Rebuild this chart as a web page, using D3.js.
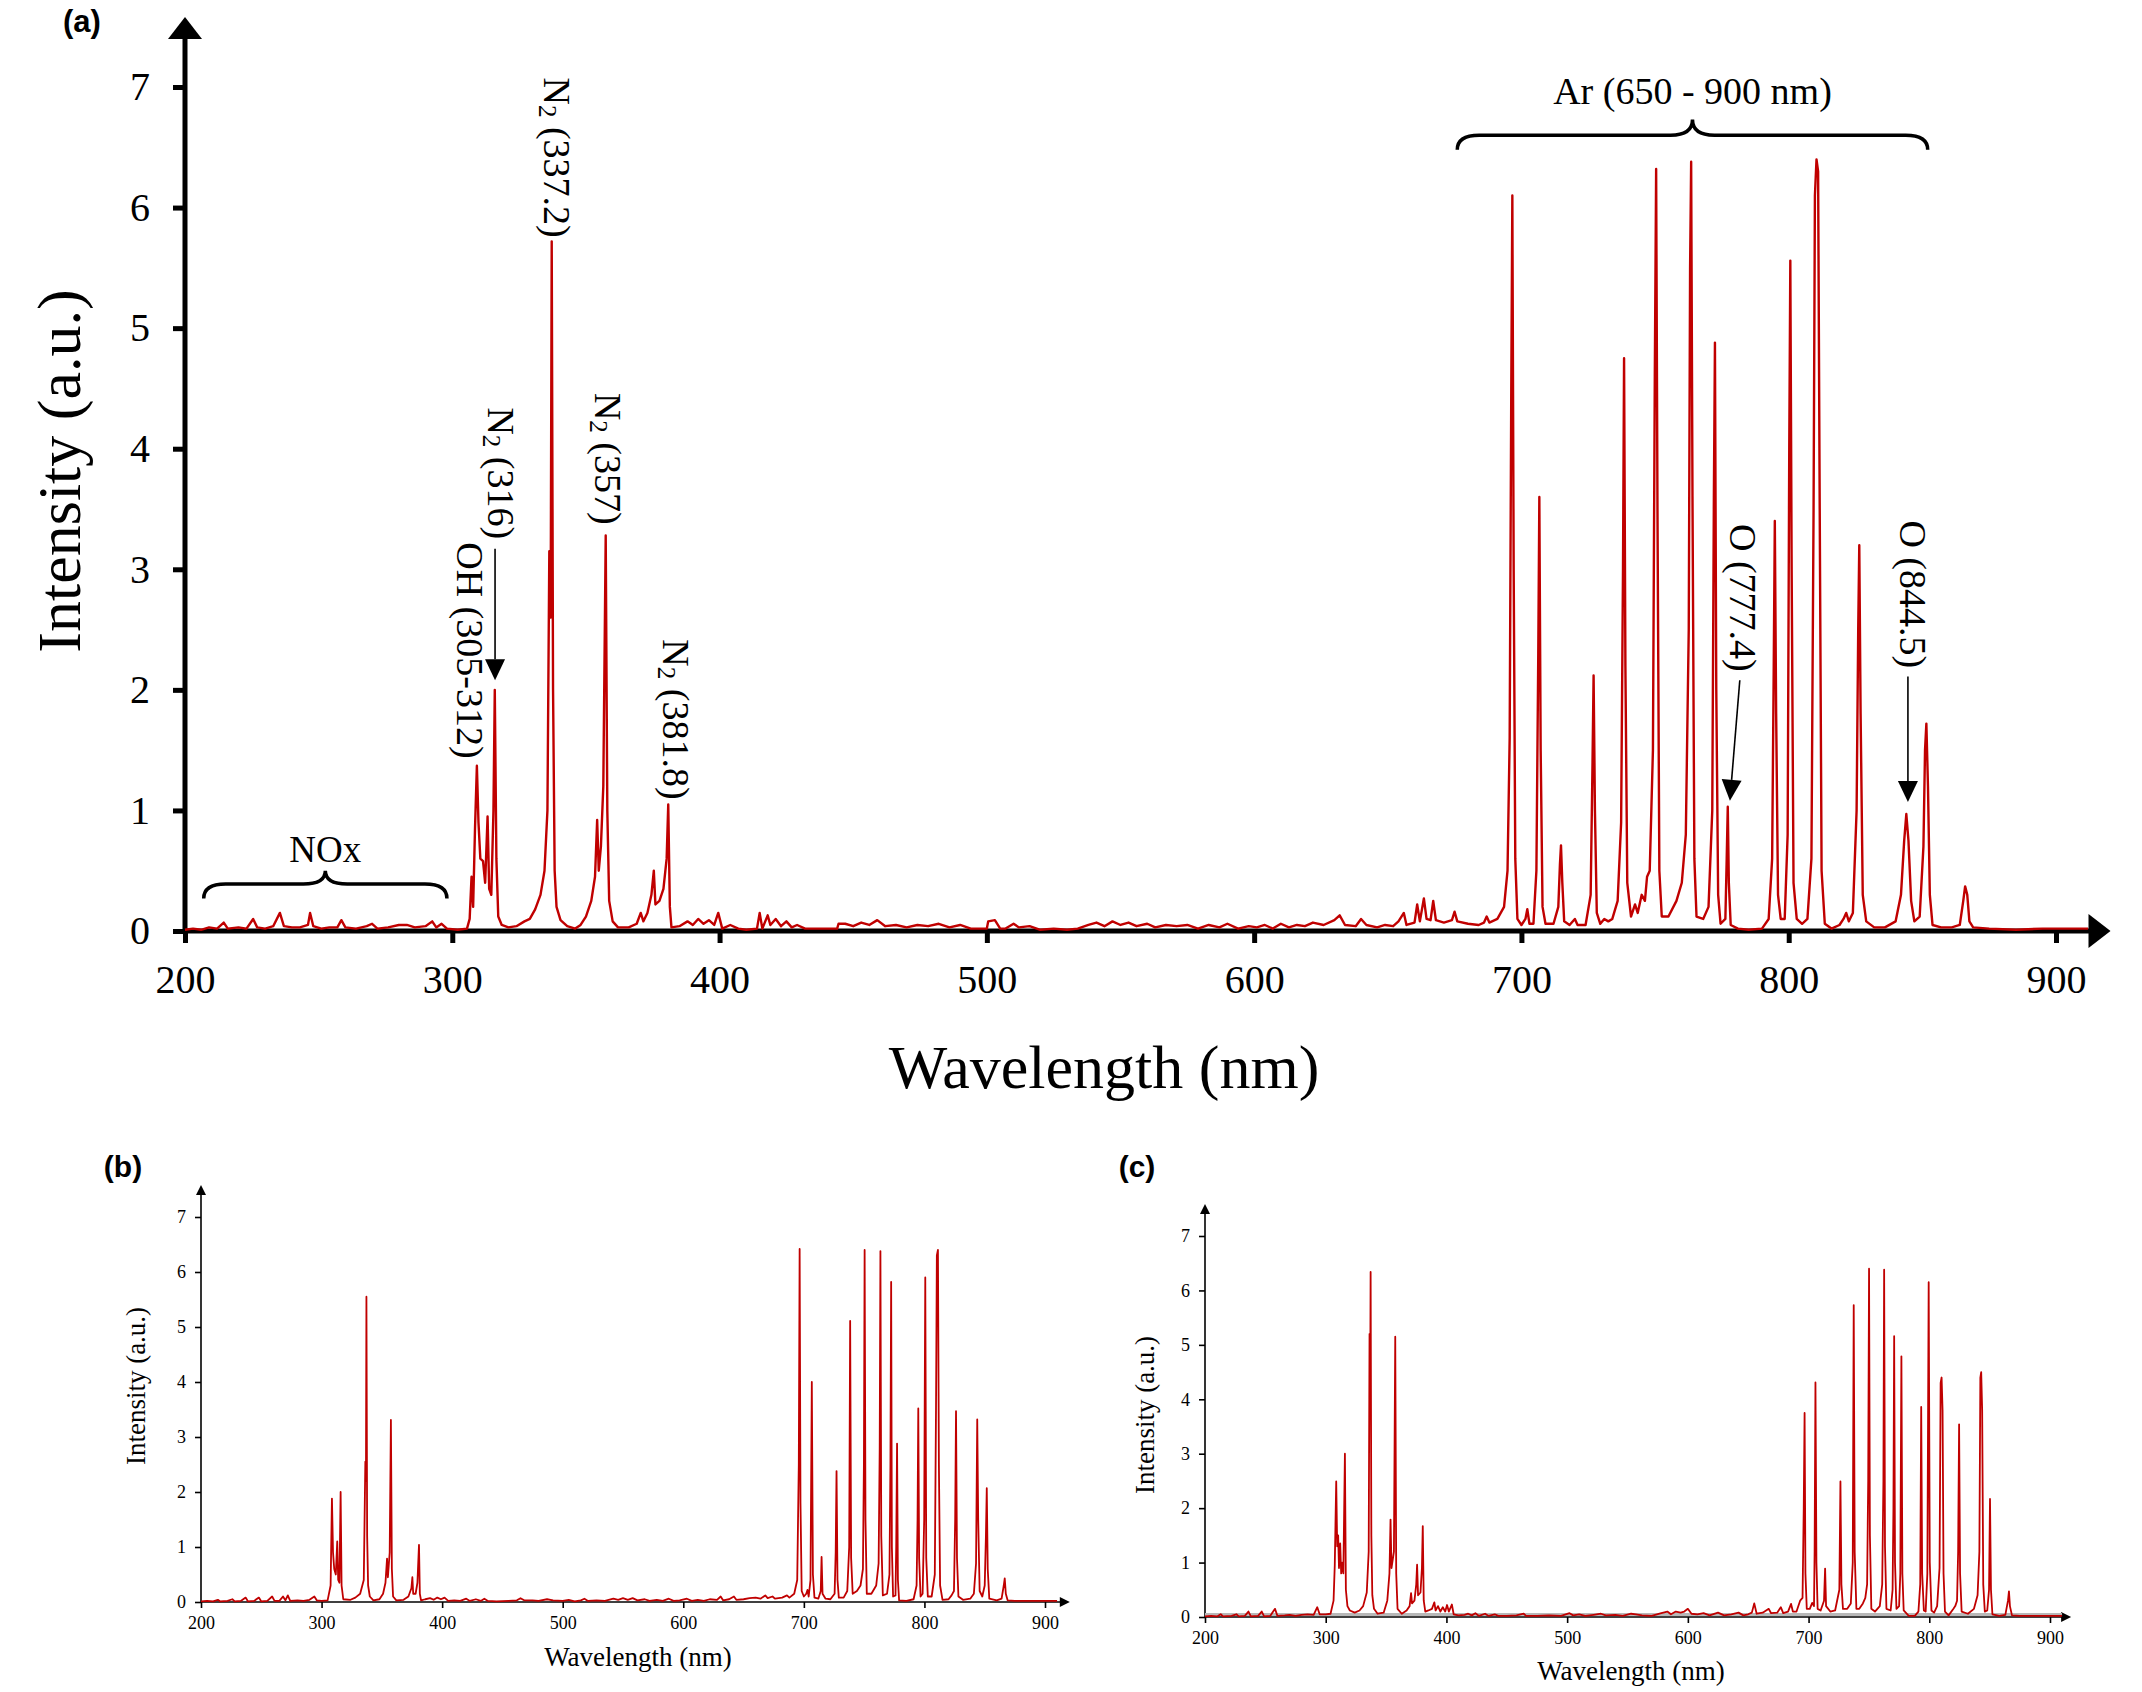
<!DOCTYPE html>
<html>
<head>
<meta charset="utf-8">
<script src="https://cdn.jsdelivr.net/npm/d3@7"></script>
<style>
  body { margin: 0; background: #fff; }
  svg text { font-family: "Liberation Serif", "Times New Roman", serif; fill: #000; }
</style>
</head>
<body>
<svg id="fig" width="2142" height="1692"></svg>
<script>
// axis ticks shared by all three panels
var ticksX = [200, 300, 400, 500, 600, 700, 800, 900];
var ticksY = [0, 1, 2, 3, 4, 5, 6, 7];

// spectra: [wavelength nm, intensity a.u.]
var spectrumA = [[200,0.01],[203,0.02],[206,0.01],[209,0.03],[212,0.02],[214.5,0.07],[216,0.02],[220,0.03],[223,0.02],[225.5,0.1],[227,0.03],[230,0.02],[233,0.04],[235.5,0.15],[237,0.04],[240,0.03],[243,0.03],[246,0.05],[246.8,0.15],[248,0.04],[251,0.02],[254,0.03],[257,0.03],[258.5,0.09],[260,0.03],[264,0.02],[268,0.04],[270,0.06],[272,0.02],[276,0.03],[280,0.05],[283,0.05],[286,0.03],[290,0.04],[292.5,0.08],[294,0.03],[296,0.06],[298,0.02],[302,0.01],[305.5,0.02],
  [306.5,0.1],[307.2,0.45],[307.8,0.2],[308.5,0.85],[309.2,1.37],[309.8,0.9],[310.5,0.6],[311.5,0.58],[312.3,0.4],[313.2,0.95],[313.8,0.35],[314.6,0.3],[315.4,1.0],[315.9,2.0],[316.5,0.6],[317.2,0.12],[318.5,0.05],[321,0.03],[324,0.04],[327,0.08],[329,0.1],[331,0.18],[333,0.3],[334.5,0.5],[335.6,1.0],[336.3,3.15],[336.8,2.6],[337.2,5.72],[337.7,2.0],[338.3,0.5],[339,0.2],[340.5,0.09],[343,0.04],[346,0.02],
  [348,0.05],[350,0.12],[352,0.25],[353.4,0.45],[354.2,0.92],[354.8,0.5],[355.6,0.7],[356.5,1.2],[357.4,3.28],[358,1.0],[358.7,0.25],[360,0.08],[362,0.03],[366,0.03],[369,0.06],[370.5,0.15],[371.5,0.08],[373,0.15],[374.5,0.3],[375.4,0.5],[376,0.22],[377.5,0.25],[379,0.35],[380.2,0.6],[380.8,1.05],[381.4,0.2],[382,0.03],[385,0.04],[388,0.08],[390,0.05],[392,0.1],[394,0.06],[396,0.09],[398,0.05],[399.5,0.15],[401,0.02],[404,0.05],[407,0.02],[410,0.01],[414,0.02],[415,0.15],[416,0.02],[418,0.13],[419,0.05],[421,0.1],[423,0.04],[425,0.08],[427,0.03],[429,0.05],[432,0.02],[436,0.02],[440,0.02],[444,0.02],[444.5,0.06],[447,0.06],[450,0.04],[453,0.07],[456,0.05],[459,0.09],[462,0.04],[466,0.05],[470,0.03],[474,0.05],[478,0.04],[482,0.06],[486,0.03],[490,0.05],[494,0.02],[500,0.02],[500.5,0.08],[503,0.09],[505,0.02],[507,0.02],[510,0.06],[512,0.03],[516,0.04],[520,0.01],[525,0.02],[530,0.01],[534,0.02],[538,0.05],[541,0.07],[544,0.04],[547,0.08],[550,0.05],[553,0.07],[556,0.04],[560,0.06],[563,0.03],[567,0.05],[571,0.04],[575,0.05],[579,0.02],[583,0.05],[587,0.03],[590,0.06],[594,0.02],[598,0.04],[601,0.03],[604,0.05],[607,0.02],[610,0.06],[613,0.03],[616,0.05],[619,0.04],[622,0.07],[626,0.05],[630,0.09],[632,0.13],[634,0.05],[638,0.04],[640,0.1],[642,0.05],[646,0.03],[649,0.05],[652,0.04],[654,0.08],[656,0.15],[657,0.05],[660,0.07],[661,0.22],[662,0.08],[663.5,0.27],[664.5,0.1],[666,0.09],[667,0.25],[668,0.09],[671,0.07],[674,0.09],[675,0.16],[676,0.08],[680,0.06],[684,0.05],[686,0.07],[687,0.12],[688,0.07],[691,0.1],
  [693.5,0.2],[694.8,0.5],[695.6,1.6],[696.2,4.5],[696.6,6.1],[697.1,3.0],[697.7,0.6],[698.5,0.1],[700,0.05],[701.5,0.1],[702.2,0.18],[703,0.06],[704.5,0.06],[705.6,0.5],[706.3,2.3],[706.7,3.6],[707.2,1.5],[707.9,0.2],[709,0.06],[712,0.06],[713.8,0.2],[714.4,0.55],[714.8,0.71],[715.3,0.4],[716,0.08],[718,0.05],[720,0.1],[721,0.05],[724,0.05],[725.9,0.3],[726.6,1.4],[727,2.12],[727.5,1.0],[728.2,0.15],[729.5,0.06],[731,0.1],[732.5,0.08],[734,0.1],[736,0.25],[737.3,0.9],[738,3.0],[738.4,4.75],[738.9,2.2],[739.6,0.4],[741,0.12],[742.5,0.22],[743.5,0.15],[745,0.3],[746.2,0.25],[747,0.45],[748,0.5],[749.2,1.5],[749.9,4.6],[750.4,6.32],[750.9,3.5],[751.6,0.5],[752.5,0.12],[755,0.12],[758,0.25],[760,0.4],[761.5,0.8],[762.6,2.5],[763.1,5.5],[763.5,6.38],[764,3.6],[764.7,0.6],[765.5,0.12],[768,0.1],[770,0.2],[771.4,1.0],[772,3.6],[772.4,4.88],[772.9,2.0],[773.6,0.3],[774.5,0.06],[776.3,0.1],[776.8,0.6],[777.2,1.03],[777.6,0.4],[778.3,0.05],[781,0.02],[785,0.01],[790,0.02],[792.5,0.1],[793.8,0.6],[794.4,2.2],[794.8,3.4],[795.3,1.8],[796,0.3],[797,0.1],[798.5,0.1],[799.6,0.8],[800.2,4.0],[800.6,5.56],[801.1,3.0],[801.8,0.4],[803,0.1],[805,0.06],[807,0.1],[808.5,0.6],[809.3,3.5],[809.8,6.1],[810.4,6.4],[811,6.3],[811.6,3.5],[812.3,0.5],[813.5,0.06],[816,0.02],[819,0.05],[820.5,0.1],[821.5,0.15],[822.5,0.08],[824,0.15],[825.4,1.0],[826,2.5],[826.4,3.2],[826.9,1.8],[827.7,0.3],[829,0.08],[832,0.03],[836,0.03],[840,0.08],[842,0.3],[843.2,0.75],[844,0.97],[844.8,0.75],[845.8,0.25],[847,0.08],[849,0.12],[850.4,0.7],[851,1.5],[851.5,1.72],[852.1,1.2],[852.8,0.3],[853.8,0.05],[857,0.03],[861,0.03],[864,0.05],[865.3,0.25],[866,0.37],[866.8,0.3],[867.6,0.08],[869,0.03],[875,0.02],[885,0.01],[895,0.02],[905,0.02],[912,0.02]];

var spectrumB = [[200,0.01],[205,0.02],[210,0.01],[214,0.04],[216,0.01],[222,0.02],[226,0.05],[228,0.01],[233,0.02],[237,0.08],[239,0.01],[244,0.02],[248,0.08],[250,0.01],[255,0.02],[259,0.1],[261,0.02],[265,0.02],[268,0.1],[270,0.03],[272,0.12],[274,0.02],[280,0.03],[285,0.02],[290,0.04],[294,0.1],[296,0.03],[300,0.02],[305,0.03],
  [307.5,0.3],[308.6,1.88],[309.5,0.9],[310.5,0.6],[311.8,0.5],[313,1.1],[313.8,0.4],[314.8,0.35],[315.8,2.0],[316.6,0.3],[318,0.05],[324,0.04],[328,0.08],[332,0.15],[335,0.4],[336.3,2.55],[336.8,2.2],[337.2,5.55],[337.8,1.2],[338.6,0.3],[340,0.1],[343,0.03],[348,0.05],[351,0.15],[353,0.35],[354.3,0.79],[355,0.45],[356.5,0.9],[357.5,3.31],[358.3,0.6],[359.3,0.1],[362,0.03],[368,0.04],[372,0.1],[374.5,0.25],[375.3,0.45],[376,0.15],[378,0.15],[379.5,0.35],[380.8,1.04],[381.5,0.15],[382.5,0.03],[386,0.05],[390,0.07],[393,0.04],[396,0.08],[399,0.05],[402,0.08],[405,0.02],[410,0.03],[415,0.02],[420,0.06],[423,0.02],[428,0.05],[432,0.02],[435,0.06],[438,0.02],[445,0.01],[455,0.02],[462,0.03],[465,0.07],[468,0.03],[475,0.03],[480,0.02],[487,0.05],[492,0.03],[500,0.02],[505,0.04],[510,0.01],[515,0.03],[518,0.06],[521,0.02],[528,0.03],[535,0.02],[542,0.06],[546,0.04],[550,0.07],[554,0.04],[558,0.07],[562,0.03],[568,0.05],[572,0.02],[578,0.04],[583,0.02],[588,0.06],[592,0.02],[597,0.03],[603,0.06],[607,0.02],[612,0.04],[617,0.02],[622,0.05],[628,0.04],[631,0.1],[633,0.03],[638,0.05],[642,0.1],[644,0.04],[650,0.05],[655,0.07],[660,0.08],[664,0.06],[668,0.12],[670,0.07],[674,0.1],[676,0.06],[682,0.08],[686,0.12],[688,0.08],[692,0.15],
  [694.5,0.4],[695.8,2.5],[696.5,6.42],[697.2,1.8],[698.2,0.2],[700,0.1],[702,0.15],[703,0.22],[704,0.1],[705.5,0.4],[706.6,4.0],[707.5,0.5],[708.8,0.08],[712,0.06],[714,0.2],[714.7,0.82],[715.5,0.15],[718,0.06],[722,0.05],[725.5,0.15],[726.4,0.9],[727.1,2.38],[727.9,0.4],[729,0.08],[733,0.08],[736,0.2],[737.6,1.0],[738.4,5.11],[739.2,0.8],[740.5,0.15],[744,0.2],[747,0.3],[749,0.6],[749.8,2.5],[750.4,6.4],[751.1,1.5],[752.2,0.15],[756,0.15],[760,0.3],[762,0.7],[762.9,2.8],[763.5,6.38],[764.2,1.2],[765.5,0.12],[769,0.15],[771,0.5],[771.8,2.5],[772.4,5.82],[773,1.0],[774,0.1],[776,0.12],[776.6,1.0],[777.3,2.88],[778,0.4],[779,0.03],[785,0.02],[791,0.05],[793.5,0.3],[794.3,1.5],[794.9,3.52],[795.6,0.8],[796.8,0.1],[798.5,0.15],[799.8,1.5],[800.7,5.9],[801.5,0.8],[802.8,0.1],[806,0.1],[808.6,0.5],[809.6,3.5],[810.3,6.3],[811.2,6.4],[812,2.5],[813,0.3],[815,0.04],[820,0.05],[822.5,0.12],[824.5,0.2],[825.5,1.5],[826.2,3.47],[827,0.8],[828.2,0.1],[832,0.04],[838,0.06],[841,0.15],[842.8,0.7],[843.8,3.32],[844.6,1.5],[845.8,0.2],[848,0.1],[850,0.3],[851,1.2],[851.7,2.07],[852.5,0.6],[853.8,0.06],[860,0.03],[864,0.06],[865.8,0.3],[866.6,0.43],[867.5,0.15],[869,0.03],[875,0.02],[890,0.02],[910,0.02]];

var spectrumC = [[200,0.01],[205,0.02],[210,0.01],[213,0.05],[215,0.01],[222,0.02],[226,0.05],[228,0.01],[233,0.02],[236,0.1],[238,0.01],[244,0.02],[247,0.1],[249,0.01],[254,0.02],[258,0.15],[260,0.02],[266,0.03],[270,0.04],[275,0.02],[280,0.04],[285,0.05],[290,0.04],[293,0.18],[295,0.05],[300,0.05],[304,0.06],
  [306.5,0.3],[307.5,0.95],[308.7,2.49],[309.5,1.3],[310.3,1.5],[311,0.9],[312,1.35],[312.8,0.8],[313.6,1.0],[314.6,0.8],[315.9,3.0],[316.7,0.5],[318,0.2],[320,0.12],[324,0.08],[328,0.12],[331,0.2],[334,0.45],[335.6,1.2],[336.3,5.2],[336.8,4.0],[337.2,6.34],[337.8,1.5],[338.6,0.4],[340,0.15],[343,0.06],[348,0.08],[351,0.3],[352.8,0.8],[353.7,1.79],[354.5,0.9],[356.5,1.2],[357.6,5.15],[358.4,0.8],[359.5,0.15],[363,0.06],[367,0.12],[369.5,0.2],[370.7,0.44],[371.5,0.25],[373.5,0.3],[375,0.6],[375.7,0.96],[376.5,0.4],[378.5,0.45],[379.7,0.9],[380.4,1.67],[381.2,0.3],[382.5,0.1],[385,0.12],[388,0.15],[390,0.27],[391,0.12],[393,0.2],[395,0.1],[397,0.18],[399,0.1],[400.5,0.22],[402,0.1],[404.5,0.23],[406,0.05],[410,0.03],[415,0.04],[418,0.06],[421,0.03],[424,0.07],[427,0.02],[432,0.06],[435,0.02],[440,0.05],[443,0.02],[450,0.02],[458,0.03],[464,0.06],[466,0.02],[475,0.02],[485,0.03],[495,0.02],[502,0.07],[505,0.03],[510,0.05],[515,0.02],[522,0.04],[528,0.06],[532,0.03],[540,0.04],[546,0.02],[553,0.06],[557,0.05],[562,0.03],[570,0.02],[578,0.07],[583,0.1],[586,0.05],[590,0.1],[594,0.08],[597,0.1],[600,0.15],[603,0.06],[608,0.05],[613,0.07],[618,0.03],[625,0.08],[630,0.03],[636,0.05],[642,0.08],[646,0.03],[650,0.05],[653,0.08],[655,0.25],[657,0.06],[662,0.08],[667,0.15],[669,0.07],[674,0.08],[677,0.18],[679,0.07],[683,0.1],[685.5,0.24],[687,0.1],[690,0.1],
  [693,0.3],[695,0.35],[696,2.0],[696.7,3.75],[697.4,0.8],[698.5,0.15],[701,0.15],[703,0.26],[704.5,0.2],[705,1.2],[705.7,4.31],[706.5,1.0],[707.5,0.15],[710,0.12],[712.8,0.3],[713.7,0.89],[714.5,0.2],[718,0.1],[722,0.12],[725.5,0.5],[726.4,2.49],[727.2,0.6],[728.5,0.15],[732,0.15],[735,0.25],[736.6,1.0],[737.4,5.73],[738.2,1.2],[739.6,0.15],[742,0.15],[745,0.25],[747,0.35],[748.5,0.6],[749.4,2.5],[750.1,6.4],[750.8,1.5],[752,0.15],[755,0.1],[759,0.2],[761,0.6],[762,2.5],[762.6,6.38],[763.3,1.3],[764.5,0.15],[768,0.12],[769.6,0.5],[770.3,2.0],[770.9,5.16],[771.6,1.0],[772.8,0.15],[775,0.2],[776,0.8],[776.9,4.79],[777.7,0.8],[778.8,0.12],[783,0.02],[788,0.02],[791,0.1],[792.5,0.6],[793.3,3.86],[794.1,0.8],[795.5,0.12],[797,0.1],[798.4,0.8],[799.5,6.15],[800.4,1.0],[801.8,0.12],[804,0.08],[806.5,0.2],[808.5,0.9],[809.4,4.3],[810.2,4.4],[811,3.8],[811.8,0.8],[813,0.1],[816,0.03],[820,0.15],[821.5,0.2],[823,0.3],[823.9,1.2],[824.7,3.54],[825.5,0.8],[826.8,0.1],[832,0.06],[837,0.15],[840,0.4],[841.5,1.2],[842.3,4.4],[843,4.5],[843.8,3.8],[844.7,0.6],[846,0.1],[848,0.12],[849.5,0.5],[850.3,2.17],[851.1,0.5],[852.3,0.05],[858,0.02],[863,0.04],[865.2,0.3],[866,0.47],[866.8,0.2],[868.5,0.03],[875,0.02],[890,0.02],[910,0.02]];

// panel (a) annotations; "_2" marks a subscript
var annotText = ['OH (305-312)', 'N_2 (316)', 'N_2 (337.2)', 'N_2 (357)', 'N_2 (381.8)', 'O (777.4)', 'O (844.5)'];
var annotNm   = [306.6, 318.2, 339.2, 358.2, 383.7, 782.9, 846.8];
var annotEnd  = [1.43, 3.25, 5.75, 3.37, 1.09, 2.15, 2.18];

var arrowFrom = [[316, 3.17], [781.7, 2.08], [844.6, 2.11]];
var arrowTo   = [[316, 2.08], [778.0, 1.08], [844.6, 1.07]];

var braceText = ['NOx', 'Ar (650 - 900 nm)'];
var braceNm   = [[207, 298], [676, 852]];
var braceV    = [[0.27, 0.39, 0.5, 0.57], [6.48, 6.6, 6.73, 6.86]]; // end, flat, tip, text baseline

var RED = '#c00000';
var SERIF = '"Liberation Serif", "Times New Roman", serif';
var svg = d3.select('#fig');

var panels = [
  { tag: '(a)', tagX: 82, tagY: 32, tagFont: 31, data: spectrumA,
    left: 185, right: 2056, bottom: 931, top: 87, xEnd: 920.4, yEnd: 7.58,
    axisW: 5, tick: 12, padX: 22, padY: 23, tickFont: 40, lineW: 2.4, head: 22, headW: 17,
    labelFont: 62, xLabel: [1104, 1088], yLabel: [80, 471] },
  { tag: '(b)', tagX: 123, tagY: 1177, tagFont: 30, data: spectrumB,
    left: 201, right: 1045, bottom: 1602, top: 1217, xEnd: 920.6, yEnd: 7.58,
    axisW: 1.6, tick: 6, padX: 8, padY: 9, tickFont: 18, lineW: 1.8, head: 10, headW: 5,
    labelFont: 27, xLabel: [638, 1666], yLabel: [145, 1386] },
  { tag: '(c)', tagX: 1137, tagY: 1177, tagFont: 30, data: spectrumC, base: true,
    left: 1205, right: 2050, bottom: 1617, top: 1236, xEnd: 917.5, yEnd: 7.59,
    axisW: 1.6, tick: 6, padX: 8, padY: 9, tickFont: 18, lineW: 1.8, head: 10, headW: 5,
    labelFont: 27, xLabel: [1631, 1680], yLabel: [1154, 1415] }
];

function drawPanel(p) {
  var x = d3.scaleLinear().domain([200, 900]).range([p.left, p.right]);
  var y = d3.scaleLinear().domain([0, 7]).range([p.bottom, p.top]);
  var g = svg.append('g');

  // axis lines ending in filled arrow heads
  var xt = x(p.xEnd), yt = y(p.yEnd);
  g.append('line').attr('x1', p.left).attr('y1', p.bottom).attr('x2', xt - p.head + 2).attr('y2', p.bottom)
    .attr('stroke', '#000').attr('stroke-width', p.axisW);
  g.append('line').attr('x1', p.left).attr('y1', p.bottom + p.axisW / 2).attr('x2', p.left).attr('y2', yt + p.head - 2)
    .attr('stroke', '#000').attr('stroke-width', p.axisW);
  g.append('path').attr('d', 'M' + xt + ',' + p.bottom + 'l' + (-p.head) + ',' + (-p.headW) + 'v' + (2 * p.headW) + 'z');
  g.append('path').attr('d', 'M' + p.left + ',' + yt + 'l' + (-p.headW) + ',' + p.head + 'h' + (2 * p.headW) + 'z');

  // grey zero band seen in panel (c)
  if (p.base) {
    g.append('line').attr('x1', x(200)).attr('x2', x(910)).attr('y1', p.bottom - 2.5).attr('y2', p.bottom - 2.5)
      .attr('stroke', '#b8b8b8').attr('stroke-width', 3);
  }

  function styleAxis(s) {
    s.select('.domain').remove();
    s.attr('font-family', null).attr('font-size', null);
    s.selectAll('.tick line').attr('stroke', '#000').attr('stroke-width', p.axisW);
    s.selectAll('.tick text').style('font-family', SERIF).attr('font-size', p.tickFont);
  }
  g.append('g').attr('transform', 'translate(0,' + p.bottom + ')')
    .call(d3.axisBottom(x).tickValues(ticksX).tickFormat(d3.format('d')).tickSize(p.tick).tickPadding(p.padX))
    .call(styleAxis);
  g.append('g').attr('transform', 'translate(' + p.left + ',0)')
    .call(d3.axisLeft(y).tickValues(ticksY).tickFormat(d3.format('d')).tickSize(p.tick).tickPadding(p.padY))
    .call(styleAxis);

  // spectrum
  var line = d3.line().x(function (d) { return x(d[0]); }).y(function (d) { return y(d[1]); });
  g.append('path').datum(p.data).attr('d', line)
    .attr('fill', 'none').attr('stroke', RED).attr('stroke-width', p.lineW).attr('stroke-linejoin', 'round');

  // axis titles and panel tag
  g.append('text').attr('x', p.xLabel[0]).attr('y', p.xLabel[1]).attr('text-anchor', 'middle')
    .attr('font-size', p.labelFont).text('Wavelength (nm)');
  g.append('text').attr('transform', 'translate(' + p.yLabel[0] + ',' + p.yLabel[1] + ') rotate(-90)')
    .attr('text-anchor', 'middle').attr('font-size', p.labelFont).text('Intensity (a.u.)');
  g.append('text').attr('x', p.tagX).attr('y', p.tagY).attr('text-anchor', 'middle')
    .style('font-family', '"Liberation Sans", Arial, sans-serif').attr('font-weight', 'bold')
    .attr('font-size', p.tagFont).text(p.tag);

  return { g: g, x: x, y: y };
}

var A = drawPanel(panels[0]);
drawPanel(panels[1]);
drawPanel(panels[2]);

// ---- panel (a) annotations ----
var ax = A.x, ay = A.y, ag = A.g;

annotText.forEach(function (t, i) {
  var px = ax(annotNm[i]), py = ay(annotEnd[i]);
  var txt = ag.append('text').attr('transform', 'translate(' + px + ',' + py + ') rotate(90)')
    .attr('text-anchor', 'end').attr('dy', '0.35em').attr('font-size', 38);
  var parts = t.split('_2');
  txt.append('tspan').text(parts[0]);
  if (parts.length > 1) {
    txt.append('tspan').attr('font-size', 25).attr('dy', 5).text('2');
    txt.append('tspan').attr('dy', -5).text(parts[1]);
  }
});

arrowFrom.forEach(function (f, i) {
  var x1 = ax(f[0]), y1 = ay(f[1]), x2 = ax(arrowTo[i][0]), y2 = ay(arrowTo[i][1]);
  var dx = x2 - x1, dy = y2 - y1, len = Math.sqrt(dx * dx + dy * dy);
  var ux = dx / len, uy = dy / len, hl = 21, hw = 10;
  var bx = x2 - ux * hl, by = y2 - uy * hl;
  ag.append('line').attr('x1', x1).attr('y1', y1).attr('x2', bx).attr('y2', by)
    .attr('stroke', '#000').attr('stroke-width', 1.6);
  ag.append('path').attr('d', 'M' + x2 + ',' + y2 + 'L' + (bx - uy * hw) + ',' + (by + ux * hw) +
    'L' + (bx + uy * hw) + ',' + (by - ux * hw) + 'Z');
});

braceText.forEach(function (t, i) {
  var x0 = ax(braceNm[i][0]), x1 = ax(braceNm[i][1]), xc = (x0 + x1) / 2;
  var ye = ay(braceV[i][0]), yf = ay(braceV[i][1]), yk = ay(braceV[i][2]);
  var r = 22;
  var d = 'M' + x0 + ',' + ye + 'Q' + x0 + ',' + yf + ' ' + (x0 + r) + ',' + yf +
    'L' + (xc - r) + ',' + yf + 'Q' + xc + ',' + yf + ' ' + xc + ',' + yk +
    'Q' + xc + ',' + yf + ' ' + (xc + r) + ',' + yf +
    'L' + (x1 - r) + ',' + yf + 'Q' + x1 + ',' + yf + ' ' + x1 + ',' + ye;
  ag.append('path').attr('d', d).attr('fill', 'none').attr('stroke', '#000').attr('stroke-width', 3.5);
  ag.append('text').attr('x', xc).attr('y', ay(braceV[i][3])).attr('text-anchor', 'middle')
    .attr('font-size', i === 0 ? 37 : 38).text(t);
});
</script>
</body>
</html>
